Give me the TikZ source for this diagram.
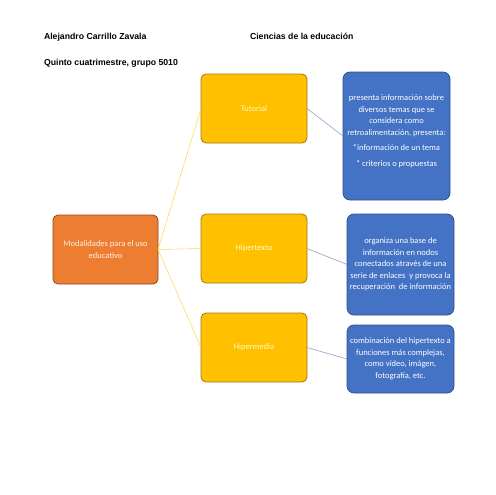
\documentclass[tikz,border=0pt]{standalone}
\usepackage{fontspec}
\setmainfont{Carlito}
\newfontfamily\headfont{Liberation Sans}
\usepackage{xcolor}
\definecolor{modorange}{HTML}{ED7D31}
\definecolor{modorangeline}{HTML}{8C4A1E}
\definecolor{modyellow}{HTML}{FFC000}
\definecolor{modyellowline}{HTML}{A07A10}
\definecolor{modblue}{HTML}{4472C4}
\definecolor{modblueline}{HTML}{2F528F}
\definecolor{yellowlink}{HTML}{FFD966}
\definecolor{bluelink}{HTML}{8FA3C8}
\begin{document}
\begin{tikzpicture}[
    x=1pt, y=-1pt,
    every node/.style={inner sep=0pt, outer sep=0pt},
    header/.style={anchor=base west, font=\headfont\bfseries\fontsize{8.7}{10}\selectfont},
    rootbox/.style={rectangle, rounded corners=5pt, fill=modorange, draw=modorangeline, line width=0.8pt,
        minimum width=105pt, minimum height=69pt, align=center, text=orange!10,
        font=\fontsize{8.5}{12}\selectfont},
    modebox/.style={rectangle, rounded corners=5pt, fill=modyellow, draw=modyellowline, line width=0.8pt,
        minimum width=106pt, minimum height=69pt, align=center, text=yellow!25,
        font=\fontsize{8.5}{12}\selectfont},
    infobox/.style={rectangle, rounded corners=7pt, fill=modblue, draw=modblueline, line width=0.8pt,
        minimum width=107pt, align=center, text=white,
        font=\fontsize{8.5}{11.5}\selectfont},
    modelink/.style={draw=yellowlink, line width=0.6pt},
    infolink/.style={draw=bluelink, line width=0.6pt}
]
    \useasboundingbox[fill=white] (0,0) rectangle (495,495);

    \node [header] (author) at (44,39.5) {Alejandro Carrillo Zavala};
    \node [header] (subject) at (250,39.5) {Ciencias de la educación};
    \node [header] (group) at (44,66) {Quinto cuatrimestre, grupo 5010};

    \node [rootbox] (modalidades) at (105.5,249.5) {Modalidades para el uso\\educativo};

    \node [modebox] (tutorial) at (254,108.5) {Tutorial};
    \node [modebox] (hipertexto) at (254,248.5) {Hipertexto};
    \node [modebox] (hipermedia) at (254,347.5) {Hipermedia};

    \node [infobox, minimum height=128pt] (tutorialinfo) at (396.5,136)
        {presenta información sobre\\diversos temas que se\\considera como\\retroalimentación, presenta:\\[4pt]
         *información de un tema\\[4pt]* criterios o propuestas\\[-1pt]};
    \node [infobox, minimum height=101pt] (hipertextoinfo) at (400.5,264.5)
        {organiza una base de\\información en nodos\\conectados através de una\\serie de enlaces\ \ y provoca la\\recuperación\ \ de información};
    \node [infobox, minimum height=68pt] (hipermediainfo) at (400.5,359)
        {combinación del hipertexto a\\funciones más complejas,\\como vídeo, imágen,\\fotografía, etc.};

    \draw [modelink] (modalidades.east) -- (tutorial.west);
    \draw [modelink] (modalidades.east) -- (hipertexto.west);
    \draw [modelink] (modalidades.east) -- (hipermedia.west);

    \draw [infolink] (tutorial.east) -- (tutorialinfo.west);
    \draw [infolink] (hipertexto.east) -- (hipertextoinfo.west);
    \draw [infolink] (hipermedia.east) -- (hipermediainfo.west);
\end{tikzpicture}
\end{document}
